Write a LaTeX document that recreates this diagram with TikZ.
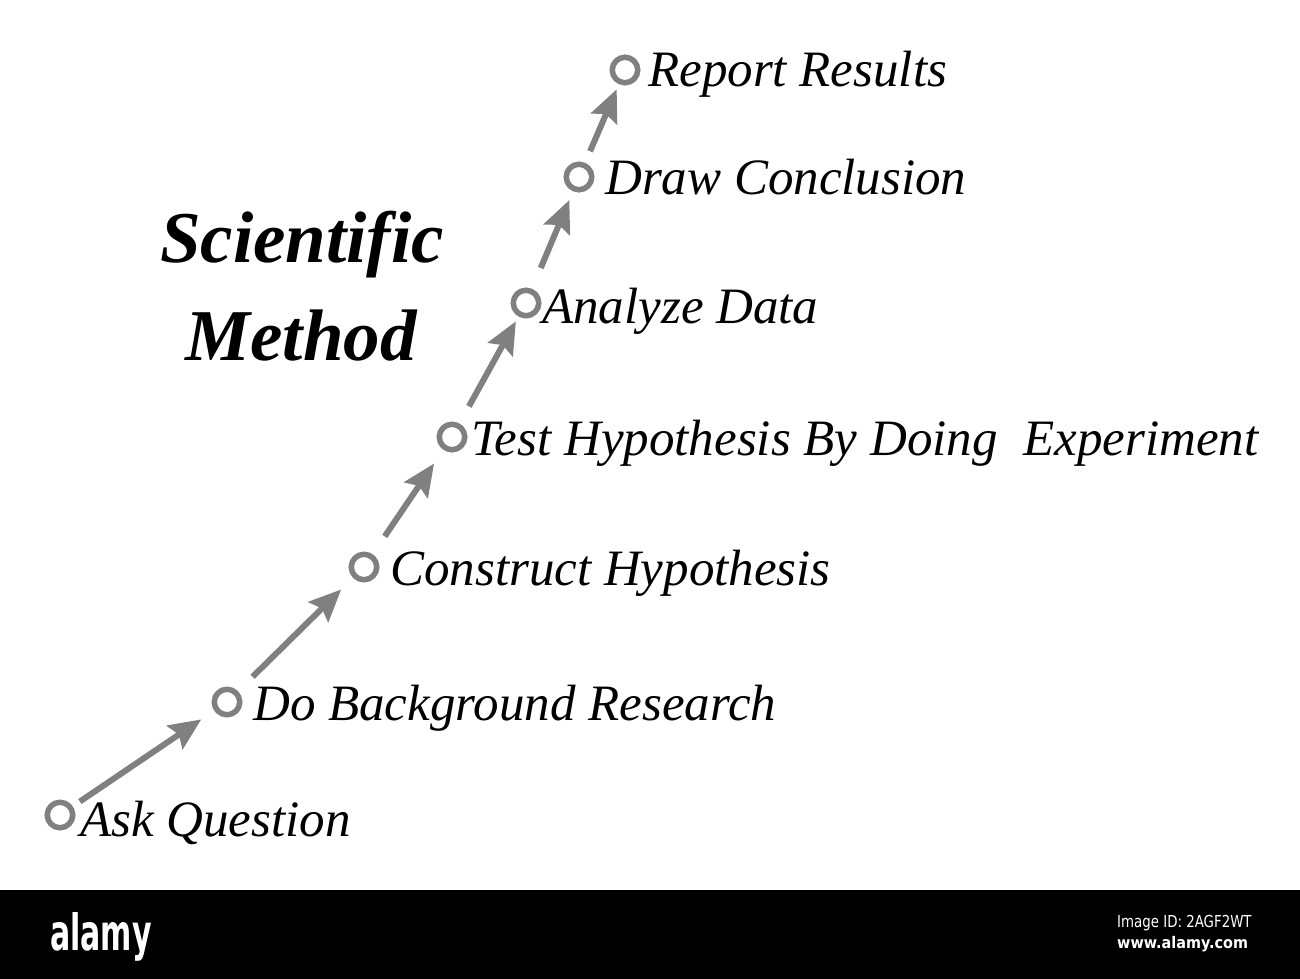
\documentclass[tikz,border=0pt]{standalone}
\usepackage{fontspec}
\setmainfont{Liberation Serif}
\newfontfamily\wmfont{DejaVu Sans}
\usetikzlibrary{arrows.meta}
\definecolor{ringgray}{RGB}{128,128,128}
\tikzset{
  ring/.style={circle, draw=ringgray, line width=5.5pt, minimum size=25.5pt, inner sep=0pt},
  lbl/.style={anchor=base west, inner sep=0pt, font=\fontsize{51}{60}\selectfont\itshape},
  ttl/.style={anchor=base, inner sep=0pt, font=\fontsize{73}{80}\selectfont\bfseries\itshape},
  arr/.style={draw=ringgray, line width=6pt, -{Stealth[length=32pt,width=28pt,inset=5pt]}},
  wm/.style={inner sep=0pt, text=white, anchor=base west}
}
\begin{document}
\begin{tikzpicture}[x=1pt,y=-1pt]
\useasboundingbox (0,0) rectangle (1300,979);
\fill[white] (0,0) rectangle (1300,979);
% title
\node[ttl] (t1) at (302,262) {Scientific};
\node[ttl] (t2) at (301,360) {Method};
% rings
\node[ring] (c1) at (60,815) {};
\node[ring] (c2) at (227,702) {};
\node[ring] (c3) at (364,567) {};
\node[ring] (c4) at (452,437) {};
\node[ring] (c5) at (526,303) {};
\node[ring] (c6) at (579,177) {};
\node[ring] (c7) at (625,70) {};
% labels
\node[lbl] (l1) at (80,836) {Ask Question};
\node[lbl] (l2) at (253,720) {Do Background Research};
\node[lbl] (l3) at (390,585) {Construct Hypothesis};
\node[lbl] (l4) at (471,455) {Test Hypothesis By Doing\ \ Experiment};
\node[lbl] (l5) at (542,323) {Analyze Data};
\node[lbl] (l6) at (605,194) {Draw Conclusion};
\node[lbl] (l7) at (648,87) {Report Results};
% arrows
\draw[arr, shorten <=24pt, shorten >=31pt] (c1.center) -- (c2.center);
\draw[arr, shorten <=36pt, shorten >=32pt] (c2.center) -- (c3.center);
\draw[arr, shorten <=37pt, shorten >=32pt] (c3.center) -- (c4.center);
\draw[arr, shorten <=35pt, shorten >=21pt] (c4.center) -- (c5.center);
\draw[arr, shorten <=38pt, shorten >=25pt] (c5.center) -- (c6.center);
\draw[arr, shorten <=28pt, shorten >=21pt] (c6.center) -- (c7.center);
% watermark bar
\fill[black] (0,890) rectangle (1300,979);
\node[wm] (w1) at (50,950) {\scalebox{0.6}[1]{\wmfont\bfseries\fontsize{50}{50}\selectfont alamy}};
\node[wm] (w2) at (1117,927) {\scalebox{0.81}[1]{\wmfont\fontsize{16.5}{16.5}\selectfont Image ID: 2AGF2WT}};
\node[wm] (w3) at (1117,948) {\scalebox{0.9}[1]{\wmfont\bfseries\fontsize{16}{16}\selectfont www.alamy.com}};
\end{tikzpicture}
\end{document}
